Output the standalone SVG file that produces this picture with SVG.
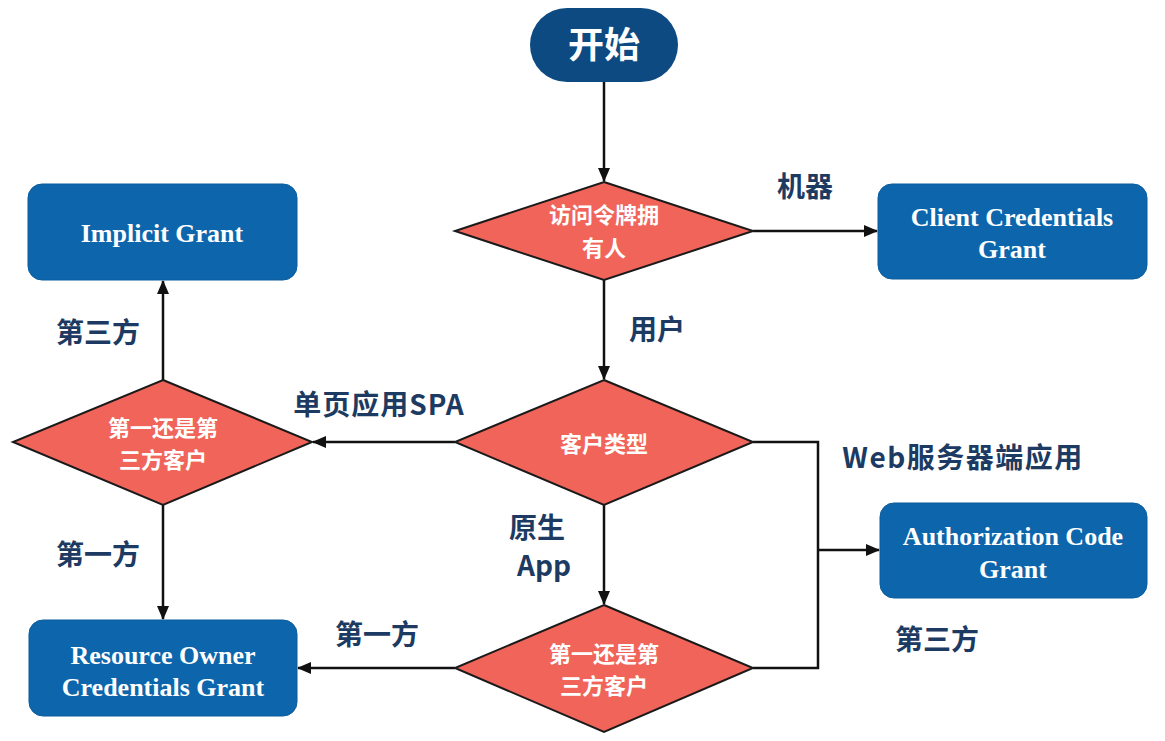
<svg xmlns="http://www.w3.org/2000/svg" width="1165" height="741" viewBox="0 0 1165 741">
<style>
.bg{fill:#ffffff}
.box{fill:#0d66ab;stroke:#0b5c9c;stroke-width:1}
.start{fill:#0d4a82}
.dia{fill:#f1645a;stroke:#1a1a1a;stroke-width:2}
.bt{font-family:"Liberation Serif","Times New Roman",serif;font-weight:bold;font-size:26px;fill:#ffffff;text-anchor:middle}
.dt{font-family:"Noto Sans CJK SC","Noto Sans",sans-serif;font-weight:bold;font-size:22px;fill:#ffffff;text-anchor:middle}
.st{font-family:"Noto Sans CJK SC","Noto Sans",sans-serif;font-weight:bold;font-size:36px;fill:#ffffff;text-anchor:middle}
.lb{font-family:"Noto Sans CJK SC","Noto Sans",sans-serif;font-weight:bold;font-size:28px;fill:#1d3b62;text-anchor:middle}
.ln{fill:none;stroke:#111111;stroke-width:2.5}
</style>
<defs>
<marker id="ah" markerUnits="userSpaceOnUse" markerWidth="14" markerHeight="12" refX="13" refY="6" orient="auto">
<path d="M0,0 L14,6 L0,12 z" fill="#111111"/>
</marker>
</defs>
<rect class="bg" x="0" y="0" width="1165" height="741"/>

<g id="connectors">
<line class="ln" x1="604" y1="82" x2="604" y2="181" marker-end="url(#ah)"/>
<line class="ln" x1="753" y1="231" x2="877" y2="231" marker-end="url(#ah)"/>
<line class="ln" x1="604" y1="280" x2="604" y2="379" marker-end="url(#ah)"/>
<line class="ln" x1="455" y1="442" x2="313" y2="442" marker-end="url(#ah)"/>
<line class="ln" x1="163" y1="380" x2="163" y2="281" marker-end="url(#ah)"/>
<line class="ln" x1="163" y1="505" x2="163" y2="619" marker-end="url(#ah)"/>
<line class="ln" x1="604" y1="505" x2="604" y2="604" marker-end="url(#ah)"/>
<line class="ln" x1="455" y1="668" x2="298" y2="668" marker-end="url(#ah)"/>
<polyline class="ln" points="753,442 818,442 818,668 753,668"/>
<line class="ln" x1="818" y1="550" x2="879" y2="550" marker-end="url(#ah)"/>
</g>

<g id="start">
<rect class="start" x="530" y="8" width="148" height="74" rx="37"/>
<text class="st" x="604" y="58">开始</text>
</g>

<g id="d-owner">
<polygon class="dia" points="604,182 753,231 604,280 455,231"/>
<text class="dt" x="604" y="223">访问令牌拥</text>
<text class="dt" x="604" y="256">有人</text>
</g>

<g id="client-credentials">
<rect class="box" x="878" y="184" width="269" height="95" rx="14"/>
<text class="bt" x="1012" y="226">Client Credentials</text>
<text class="bt" x="1012" y="258">Grant</text>
</g>

<g id="implicit">
<rect class="box" x="28" y="184" width="269" height="96" rx="14"/>
<text class="bt" x="162" y="242">Implicit Grant</text>
</g>

<g id="d-client-type">
<polygon class="dia" points="604,380 753,442 604,505 455,442"/>
<text class="dt" x="604" y="452">客户类型</text>
</g>

<g id="d-left">
<polygon class="dia" points="163,380 312,442 163,505 13,442"/>
<text class="dt" x="163" y="436">第一还是第</text>
<text class="dt" x="163" y="468">三方客户</text>
</g>

<g id="d-bottom">
<polygon class="dia" points="604,605 753,668 604,732 455,668"/>
<text class="dt" x="604" y="662">第一还是第</text>
<text class="dt" x="604" y="694">三方客户</text>
</g>

<g id="resource-owner">
<rect class="box" x="29" y="620" width="268" height="96" rx="14"/>
<text class="bt" x="163" y="664">Resource Owner</text>
<text class="bt" x="163" y="696">Credentials Grant</text>
</g>

<g id="auth-code">
<rect class="box" x="880" y="503" width="267" height="95" rx="14"/>
<text class="bt" x="1013" y="545">Authorization Code</text>
<text class="bt" x="1013" y="578">Grant</text>
</g>

<g id="labels">
<text class="lb" x="805" y="197">机器</text>
<text class="lb" x="657" y="340">用户</text>
<text class="lb" x="98" y="343">第三方</text>
<text class="lb" x="379" y="415" letter-spacing="1">单页应用SPA</text>
<text class="lb" x="963" y="468" letter-spacing="1.5">Web服务器端应用</text>
<text class="lb" x="537" y="538">原生</text>
<text class="lb" x="544" y="576">App</text>
<text class="lb" x="98" y="565">第一方</text>
<text class="lb" x="377" y="645">第一方</text>
<text class="lb" x="937" y="650">第三方</text>
</g>
</svg>
